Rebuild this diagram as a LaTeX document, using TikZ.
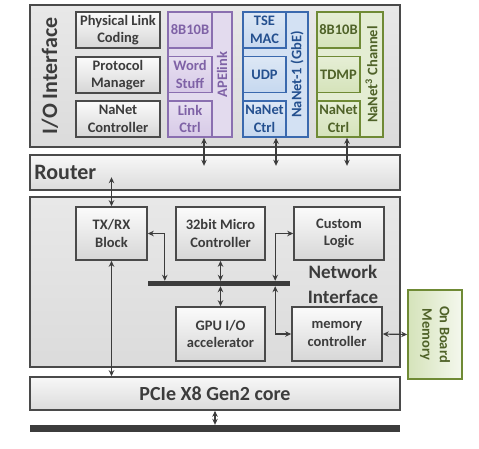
\documentclass[tikz,border=0pt]{standalone}
\usepackage{fontspec}
\setmainfont{Carlito}
\usetikzlibrary{arrows.meta,shadows}

\definecolor{txtgray}{HTML}{3C3C3C}
\definecolor{edgegray}{HTML}{4A4A4A}
\definecolor{apeedge}{HTML}{8A6FB0}
\definecolor{apetxt}{HTML}{7F62A6}
\definecolor{apefill}{HTML}{E3DBEE}
\definecolor{apeinner}{HTML}{D7CAE7}
\definecolor{gbeedge}{HTML}{3A69AE}
\definecolor{gbetxt}{HTML}{24508F}
\definecolor{gbefill}{HTML}{D3E1F3}
\definecolor{gbeinner}{HTML}{C6D8EF}
\definecolor{chedge}{HTML}{6F8A35}
\definecolor{chtxt}{HTML}{4F6228}
\definecolor{chfill}{HTML}{E4EDD3}
\definecolor{chinner}{HTML}{D5E3BA}

\begin{document}
\begin{tikzpicture}[
  x=1pt, y=-1pt,
  every node/.style={font=\bfseries\fontsize{14.5}{17.5}\selectfont,text=txtgray,align=center,inner sep=0pt},
  shade/.style={drop shadow={shadow xshift=1.2pt,shadow yshift=-1.2pt,opacity=.3}},
  layer/.style={draw=edgegray,line width=1.6pt,top color=gray!18,bottom color=gray!28,shade},
  block/.style={draw=edgegray,line width=1.6pt,top color=gray!3,bottom color=gray!32,shade},
  apegroup/.style={draw=apeedge,line width=1.6pt,fill=apefill},
  apeblock/.style={draw=apeedge,line width=1.6pt,top color=apeinner!60,bottom color=apeinner,text=apetxt},
  gbegroup/.style={draw=gbeedge,line width=1.6pt,fill=gbefill},
  gbeblock/.style={draw=gbeedge,line width=1.6pt,top color=gbeinner!60,bottom color=gbeinner,text=gbetxt},
  chgroup/.style={draw=chedge,line width=1.6pt,fill=chfill},
  chblock/.style={draw=chedge,line width=1.6pt,top color=chinner!60,bottom color=chinner,text=chtxt},
  bar/.style={fill=txtgray},
  big/.style={font=\bfseries\fontsize{22}{26}\selectfont},
  dbl/.style={{Stealth[length=6pt,width=5.5pt]}-{Stealth[length=6pt,width=5.5pt]},draw=txtgray,line width=1.2pt}
]
\useasboundingbox (0,0) rectangle (479,448);

% layers
\node[layer,minimum width=370,minimum height=142] (io) at (215,76) {};
\node[layer,top color=gray!6,minimum width=370,minimum height=35] (router) at (215,172.5) {};
\node[layer,minimum width=370,minimum height=170] (ni) at (215,282) {};
\node[layer,top color=gray!6,minimum width=370,minimum height=33,font=\bfseries\fontsize{20}{24}\selectfont] (pcie) at (215,393.5) {PCIe X8 Gen2 core};
\node[bar,minimum width=370,minimum height=7] (pcibus) at (215,428.5) {};

\node[big,rotate=90] (iotxt) at (50,76) {I/O Interface};
\node[big,anchor=west] (routertxt) at ([xshift=5pt]router.west) {Router};

% I/O interface
\node[block,minimum width=84,minimum height=36] (phy) at (118,30) {Physical Link\\Coding};
\node[block,minimum width=84,minimum height=36] (proto) at (118,75) {Protocol\\Manager};
\node[block,minimum width=84,minimum height=36] (nactrl) at (118,119) {NaNet\\Controller};

\node[apegroup,minimum width=64,minimum height=125] (apelink) at (200,74.5) {};
\node[rotate=90,text=apetxt] (apetxt) at (222,74.5) {APElink};
\node[apeblock,minimum width=44,minimum height=36] (apecode) at (190,30) {8B10B};
\node[apeblock,minimum width=44,minimum height=36] (apeword) at (190,74.5) {Word\\Stuff};
\node[apeblock,minimum width=44,minimum height=36] (apectrl) at (190,119) {Link\\Ctrl};

\node[gbegroup,minimum width=65,minimum height=125] (gbe) at (275.5,74.5) {};
\node[rotate=90,text=gbetxt] (gbetxt) at (297,74.5) {NaNet-1 (GbE)};
\node[gbeblock,minimum width=43,minimum height=36] (gbemac) at (264.5,30) {TSE\\MAC};
\node[gbeblock,minimum width=43,minimum height=36] (gbeudp) at (264.5,74.5) {UDP};
\node[gbeblock,minimum width=43,minimum height=36] (gbectrl) at (264.5,119) {NaNet\\Ctrl};

\node[chgroup,minimum width=66,minimum height=125] (chan) at (350,74.5) {};
\node[rotate=90,text=chtxt] (chantxt) at (371.5,74.5) {NaNet\textsuperscript{3} Channel};
\node[chblock,minimum width=43,minimum height=36] (chcode) at (338.5,30) {8B10B};
\node[chblock,minimum width=43,minimum height=36] (chtdmp) at (338.5,74.5) {TDMP};
\node[chblock,minimum width=43,minimum height=36] (chctrl) at (338.5,119) {NaNet\\Ctrl};

\draw[dbl] ([xshift=4pt]apelink.south) -- ++(0,28);
\draw[dbl] ([xshift=0.5pt]gbe.south) -- ++(0,28);
\draw[dbl] ([xshift=-3pt]chan.south) -- ++(0,28);

% network interface
\node[block,minimum width=71,minimum height=53] (txrx) at (111.5,233.5) {TX/RX\\Block};
\node[block,minimum width=89,minimum height=53] (micro) at (220.5,233.5) {32bit Micro\\Controller};
\node[block,minimum width=90,minimum height=53] (custom) at (339,233.5) {Custom\\Logic};
\node[bar,minimum width=142,minimum height=5] (bus) at (219,283.5) {};
\node[block,minimum width=89,minimum height=54] (gpu) at (220.5,334) {GPU I/O\\accelerator};
\node[block,minimum width=90,minimum height=54] (memctrl) at (337,334) {memory\\controller};
\node[font=\bfseries\fontsize{19}{25}\selectfont] (nitxt) at (343,284.5) {Network\\Interface};

\node[draw=chedge,line width=1.6pt,left color=chinner,right color=chfill!40,shade,minimum width=54,minimum height=89] (obm) at (435,334.5) {};
\node[rotate=-90,text=chtxt] (obmtxt) at (obm.center) {On Board\\Memory};

\draw[dbl] (txrx.north) -- ++(0,-29);
\draw[dbl] ([xshift=17pt]bus.north west) |- (txrx.east);
\draw[dbl] (micro.south) -- (micro.south |- bus.north);
\draw[dbl] (bus.south -| gpu.north) -- (gpu.north);
\draw[dbl] ([xshift=-15pt]bus.north east) |- (custom.west);
\draw[dbl] ([xshift=-15pt]bus.south east) |- (memctrl.west);
\draw[dbl] (memctrl.east) -- (obm.west);
\draw[dbl] (txrx.south) -- (txrx.south |- pcie.north);
\draw[dbl] (pcie.south) -- (pcie.south |- pcibus.north);
\end{tikzpicture}
\end{document}
